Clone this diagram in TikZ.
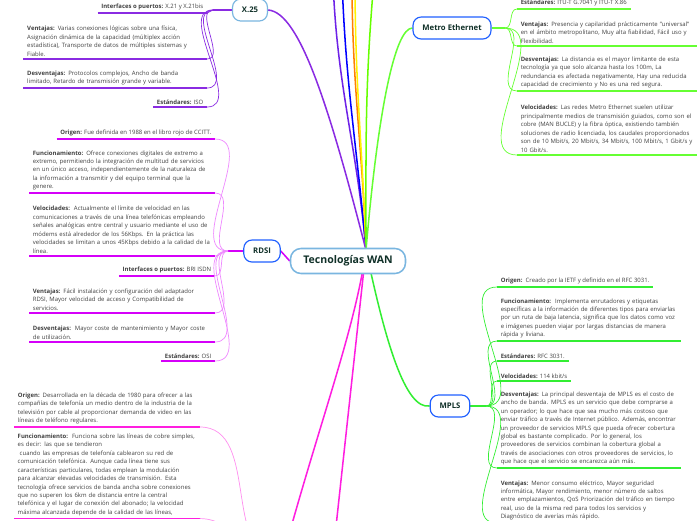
\documentclass[tikz,border=0pt]{standalone}
\usepackage{fontspec}
\setmainfont{Open Sans}
\usetikzlibrary{backgrounds}
\definecolor{xcol}{HTML}{8A2BE2}
\definecolor{rcol}{HTML}{D500F9}
\definecolor{rcurve}{HTML}{EE88FF}
\definecolor{acol}{HTML}{FF1EE0}
\definecolor{mcol}{HTML}{66FF33}
\definecolor{pcol}{HTML}{33EE33}
\definecolor{edgeblue}{HTML}{2060FF}
\definecolor{edgelight}{HTML}{7AB6E0}
\definecolor{txt}{HTML}{404040}
\definecolor{dark}{HTML}{103028}

\begin{document}
\begin{tikzpicture}
  [
    x = 0.03cm, y = -0.03cm,
    every node/.style = {font=\fontsize{5.1}{7.2}\selectfont, text=txt},
    central/.style    = {draw=edgelight, line width=1.3pt, rounded corners=9pt, fill=white,
                         minimum width=115*0.03cm, minimum height=25*0.03cm,
                         font=\fontsize{9}{10}\selectfont\bfseries, text=dark},
    topic/.style      = {draw=#1, line width=1pt, rounded corners=7pt, fill=white,
                         minimum height=22*0.03cm, inner xsep=8pt,
                         font=\fontsize{6.6}{8}\selectfont\bfseries, text=dark},
    leaf/.style       = {align=left, inner xsep=3pt, inner ysep=2.2pt},
    trunk/.style      = {line width=1.3pt},
    twig/.style       = {line width=0.6pt},
    under/.style      = {line width=1.2pt}
  ]
  \useasboundingbox (0,0) rectangle (697,520);
  \clip (0,0) rectangle (697,520);

  % main topics
  \node[central] (wan) at (348,261) {Tecnologías WAN};
  \node[topic=edgelight] (x25) at (250,10) {X.25};
  \node[topic=edgeblue] (rdsi) at (262,251) {RDSI};
  \node[topic=edgeblue] (metro) at (452,28) {Metro Ethernet};
  \node[topic=edgeblue] (mpls) at (450,406) {MPLS};

  \coordinate (hub) at (366,250);
  \coordinate (j-x25) at (213,10);
  \coordinate (j-rdsi) at (228,251);
  \coordinate (j-metro) at (505,28);
  \coordinate (j-mpls) at (486,406);
  \coordinate (adsl) at (282,560);
  \coordinate (other) at (334,545);

  % X.25
  \node[leaf, anchor=south east] (x25-int) at (207,13) {\textbf{Interfaces o puertos:} X.21 y X.21bis};
  \node[leaf, anchor=south east, text width=5.28cm] (x25-ven) at (207,59)
    {\textbf{Ventajas:} Varias conexiones lógicas sobre una física,\\ Asignación dinámica de la capacidad (múltiplex acción\\ estadística), Transporte de datos de múltiples sistemas y\\ Fiable.};
  \node[leaf, anchor=south east, text width=5.28cm] (x25-des) at (207,88)
    {\textbf{Desventajas:} Protocolos complejos, Ancho de banda\\ limitado, Retardo de transmisión grande y variable.};
  \node[leaf, anchor=south east] (x25-est) at (207,107) {\textbf{Estándares:} ISO};

  % RDSI
  \node[leaf, anchor=south east] (rdsi-ori) at (215,139) {\textbf{Origen:} Fue definida en 1988 en el libro rojo de CCITT.};
  \node[leaf, anchor=south east, text width=5.35cm] (rdsi-fun) at (215,193)
    {\textbf{Funcionamiento:} Ofrece conexiones digitales de extremo a\\ extremo, permitiendo la integración de multitud de servicios\\ en un único acceso, independientemente de la naturaleza de\\ la información a transmitir y del equipo terminal que la\\ genere.};
  \node[leaf, anchor=south east, text width=5.35cm] (rdsi-vel) at (215,256)
    {\textbf{Velocidades:}\ \ Actualmente el límite de velocidad en las\\ comunicaciones a través de una línea telefónicas empleando\\ señales analógicas entre central y usuario mediante el uso de\\ módems está alrededor de los 56Kbps. En la práctica las\\ velocidades se limitan a unos 45Kbps debido a la calidad de la\\ línea.};
  \node[leaf, anchor=south east] (rdsi-int) at (215,276) {\textbf{Interfaces o puertos:} BRI ISDN};
  \node[leaf, anchor=south east, text width=5.35cm] (rdsi-ven) at (215,313)
    {\textbf{Ventajas:} Fácil instalación y configuración del adaptador\\ RDSI, Mayor velocidad de acceso y Compatibilidad de\\ servicios.};
  \node[leaf, anchor=south east, text width=5.35cm] (rdsi-des) at (215,342)
    {\textbf{Desventajas:}\ \ Mayor coste de mantenimiento y Mayor coste\\ de utilización.};
  \node[leaf, anchor=south east] (rdsi-est) at (215,361) {\textbf{Estándares:} OSI};

  % bottom left branch
  \node[leaf, anchor=south east, text width=5.35cm] (adsl-ori) at (200,427)
    {\textbf{Origen:} Desarrollada en la década de 1980 para ofrecer a las\\ compañías de telefonía un medio dentro de la industria de la\\ televisión por cable al proporcionar demanda de video en las\\ líneas de teléfono regulares.};
  \node[leaf, anchor=north west, text width=5.35cm] (adsl-fun) at (14,431)
    {\textbf{Funcionamiento:}\ \ Funciona sobre las líneas de cobre simples,\\ es decir: las que se tendieron\\ \ cuando las empresas de telefonía cablearon su red de\\ comunicación telefónica. Aunque cada línea tiene sus\\ características particulares, todas emplean la modulación\\ para alcanzar elevadas velocidades de transmisión. Esta\\ tecnología ofrece servicios de banda ancha sobre conexiones\\ que no superen los 6km de distancia entre la central\\ telefónica y el lugar de conexión del abonado; la velocidad\\ máxima alcanzada depende de la calidad de las líneas,};

  % Metro Ethernet
  \node[leaf, anchor=south west] (metro-est) at (517,9) {\textbf{Estándares:} ITU-T G.7041 y ITU-T X.86};
  \node[leaf, anchor=south west, text width=5.3cm] (metro-ven) at (517,46)
    {\textbf{Ventajas:} Presencia y capilaridad prácticamente "universal"\\ en el ámbito metropolitano, Muy alta fiabilidad, Fácil uso y\\ Flexibilidad.};
  \node[leaf, anchor=south west, text width=5.3cm] (metro-des) at (517,91)
    {\textbf{Desventajas:} La distancia es el mayor limitante de esta\\ tecnología ya que solo alcanza hasta los 100m, La\\ redundancia es afectada negativamente, Hay una reducida\\ capacidad de crecimiento y No es una red segura.};
  \node[leaf, anchor=south west, text width=5.3cm] (metro-vel) at (517,155)
    {\textbf{Velocidades:} Las redes Metro Ethernet suelen utilizar\\ principalmente medios de transmisión guiados, como son el\\ cobre (MAN BUCLE) y la fibra óptica, existiendo también\\ soluciones de radio licenciada, los caudales proporcionados\\ son de 10 Mbit/s, 20 Mbit/s, 34 Mbit/s, 100 Mbit/s, 1 Gbit/s y\\ 10 Gbit/s.};

  % MPLS
  \node[leaf, anchor=south west] (mpls-ori) at (497,287) {\textbf{Origen:}\ \ Creado por la IETF y definido en el RFC 3031.};
  \node[leaf, anchor=south west, text width=5.3cm] (mpls-fun) at (497,341)
    {\textbf{Funcionamiento:}\ \ Implementa enrutadores y etiquetas\\ específicas a la información de diferentes tipos para enviarlas\\ por un ruta de baja latencia, significa que los datos como voz\\ e imágenes pueden viajar por largas distancias de manera\\ rápida y liviana.};
  \node[leaf, anchor=south west] (mpls-est) at (497,361) {\textbf{Estándares:} RFC 3031.};
  \node[leaf, anchor=south west] (mpls-vel) at (497,381) {\textbf{Velocidades:} 114 kbit/s};
  \node[leaf, anchor=south west, text width=5.3cm] (mpls-des) at (497,468)
    {\textbf{Desventajas:} La principal desventaja de MPLS es el costo de\\ ancho de banda. MPLS es un servicio que debe comprarse a\\ un operador; lo que hace que sea mucho más costoso que\\ enviar tráfico a través de Internet público. Además, encontrar\\ un proveedor de servicios MPLS que pueda ofrecer cobertura\\ global es bastante complicado. Por lo general, los\\ proveedores de servicios combinan la cobertura global a\\ través de asociaciones con otros proveedores de servicios, lo\\ que hace que el servicio se encarezca aún más.};
  \node[leaf, anchor=south west, text width=5.3cm] (mpls-ven) at (497,523)
    {\textbf{Ventajas:} Menor consumo eléctrico, Mayor seguridad\\ informática, Mayor rendimiento, menor número de saltos\\ entre emplazamientos, QoS Priorización del tráfico en tiempo\\ real, uso de la misma red para todos los servicios y\\ Diagnóstico de averías más rápido.};

  \begin{scope}[on background layer]
    % branches leaving the picture
    \draw[trunk, color=xcol!80!blue] (hub) to[out=95,in=-88] (333,-20);
    \draw[trunk, blue] (hub) to[out=95,in=-88] (342,-20);
    \draw[trunk, orange] (hub) to[out=92,in=-90] (352,-20);
    \draw[trunk, yellow] (hub) to[out=92,in=-90] (355,-20);
    \draw[trunk, green!60!yellow] (hub) to[out=90,in=-95] (374,-20);
    \draw[trunk, acol] (hub) .. controls (355,330) and (320,420) .. (adsl);
    \draw[trunk, acol] (hub) -- (other);
    % main topics
    \draw[trunk, xcol] (hub) .. controls (330,110) and (300,12) .. (x25.east);
    \draw[trunk, rcol] (wan.west) -- (rdsi.east);
    \draw[trunk, mcol] (hub) .. controls (378,110) and (395,28) .. (metro.west);
    \draw[trunk, pcol] (hub) .. controls (385,340) and (405,410) .. (mpls.west);
    \draw[trunk, xcol] (x25.west) -- (j-x25);
    \draw[trunk, rcol] (rdsi.west) -- (j-rdsi);
    \draw[trunk, mcol] (metro.east) -- (j-metro);
    \draw[trunk, pcol] (mpls.east) -- (j-mpls);
  \end{scope}

  % leaves
  \foreach \n in {x25-int, x25-ven, x25-des, x25-est} {
    \draw[under, xcol] (\n.south west) -- (\n.south east);
    \draw[twig, xcol] (j-x25) to[out=180,in=0] (\n.south east);
  }
  \foreach \n in {rdsi-ori, rdsi-fun, rdsi-vel, rdsi-int, rdsi-ven, rdsi-des, rdsi-est} {
    \draw[under, rcol] (\n.south west) -- (\n.south east);
    \draw[twig, rcurve] (j-rdsi) to[out=180,in=0] (\n.south east);
  }
  \foreach \n in {adsl-ori, adsl-fun} {
    \draw[under, acol] (\n.south west) -- (\n.south east);
    \draw[twig, acol!50] (adsl) to[out=180,in=0] (\n.south east);
  }
  \foreach \n in {metro-est, metro-ven, metro-des, metro-vel} {
    \draw[under, mcol] (\n.south west) -- (\n.south east);
    \draw[twig, mcol] (j-metro) to[out=0,in=180] (\n.south west);
  }
  \foreach \n in {mpls-ori, mpls-fun, mpls-est, mpls-vel, mpls-des, mpls-ven} {
    \draw[under, pcol] (\n.south west) -- (\n.south east);
    \draw[twig, pcol] (j-mpls) to[out=0,in=180] (\n.south west);
  }
\end{tikzpicture}
\end{document}
